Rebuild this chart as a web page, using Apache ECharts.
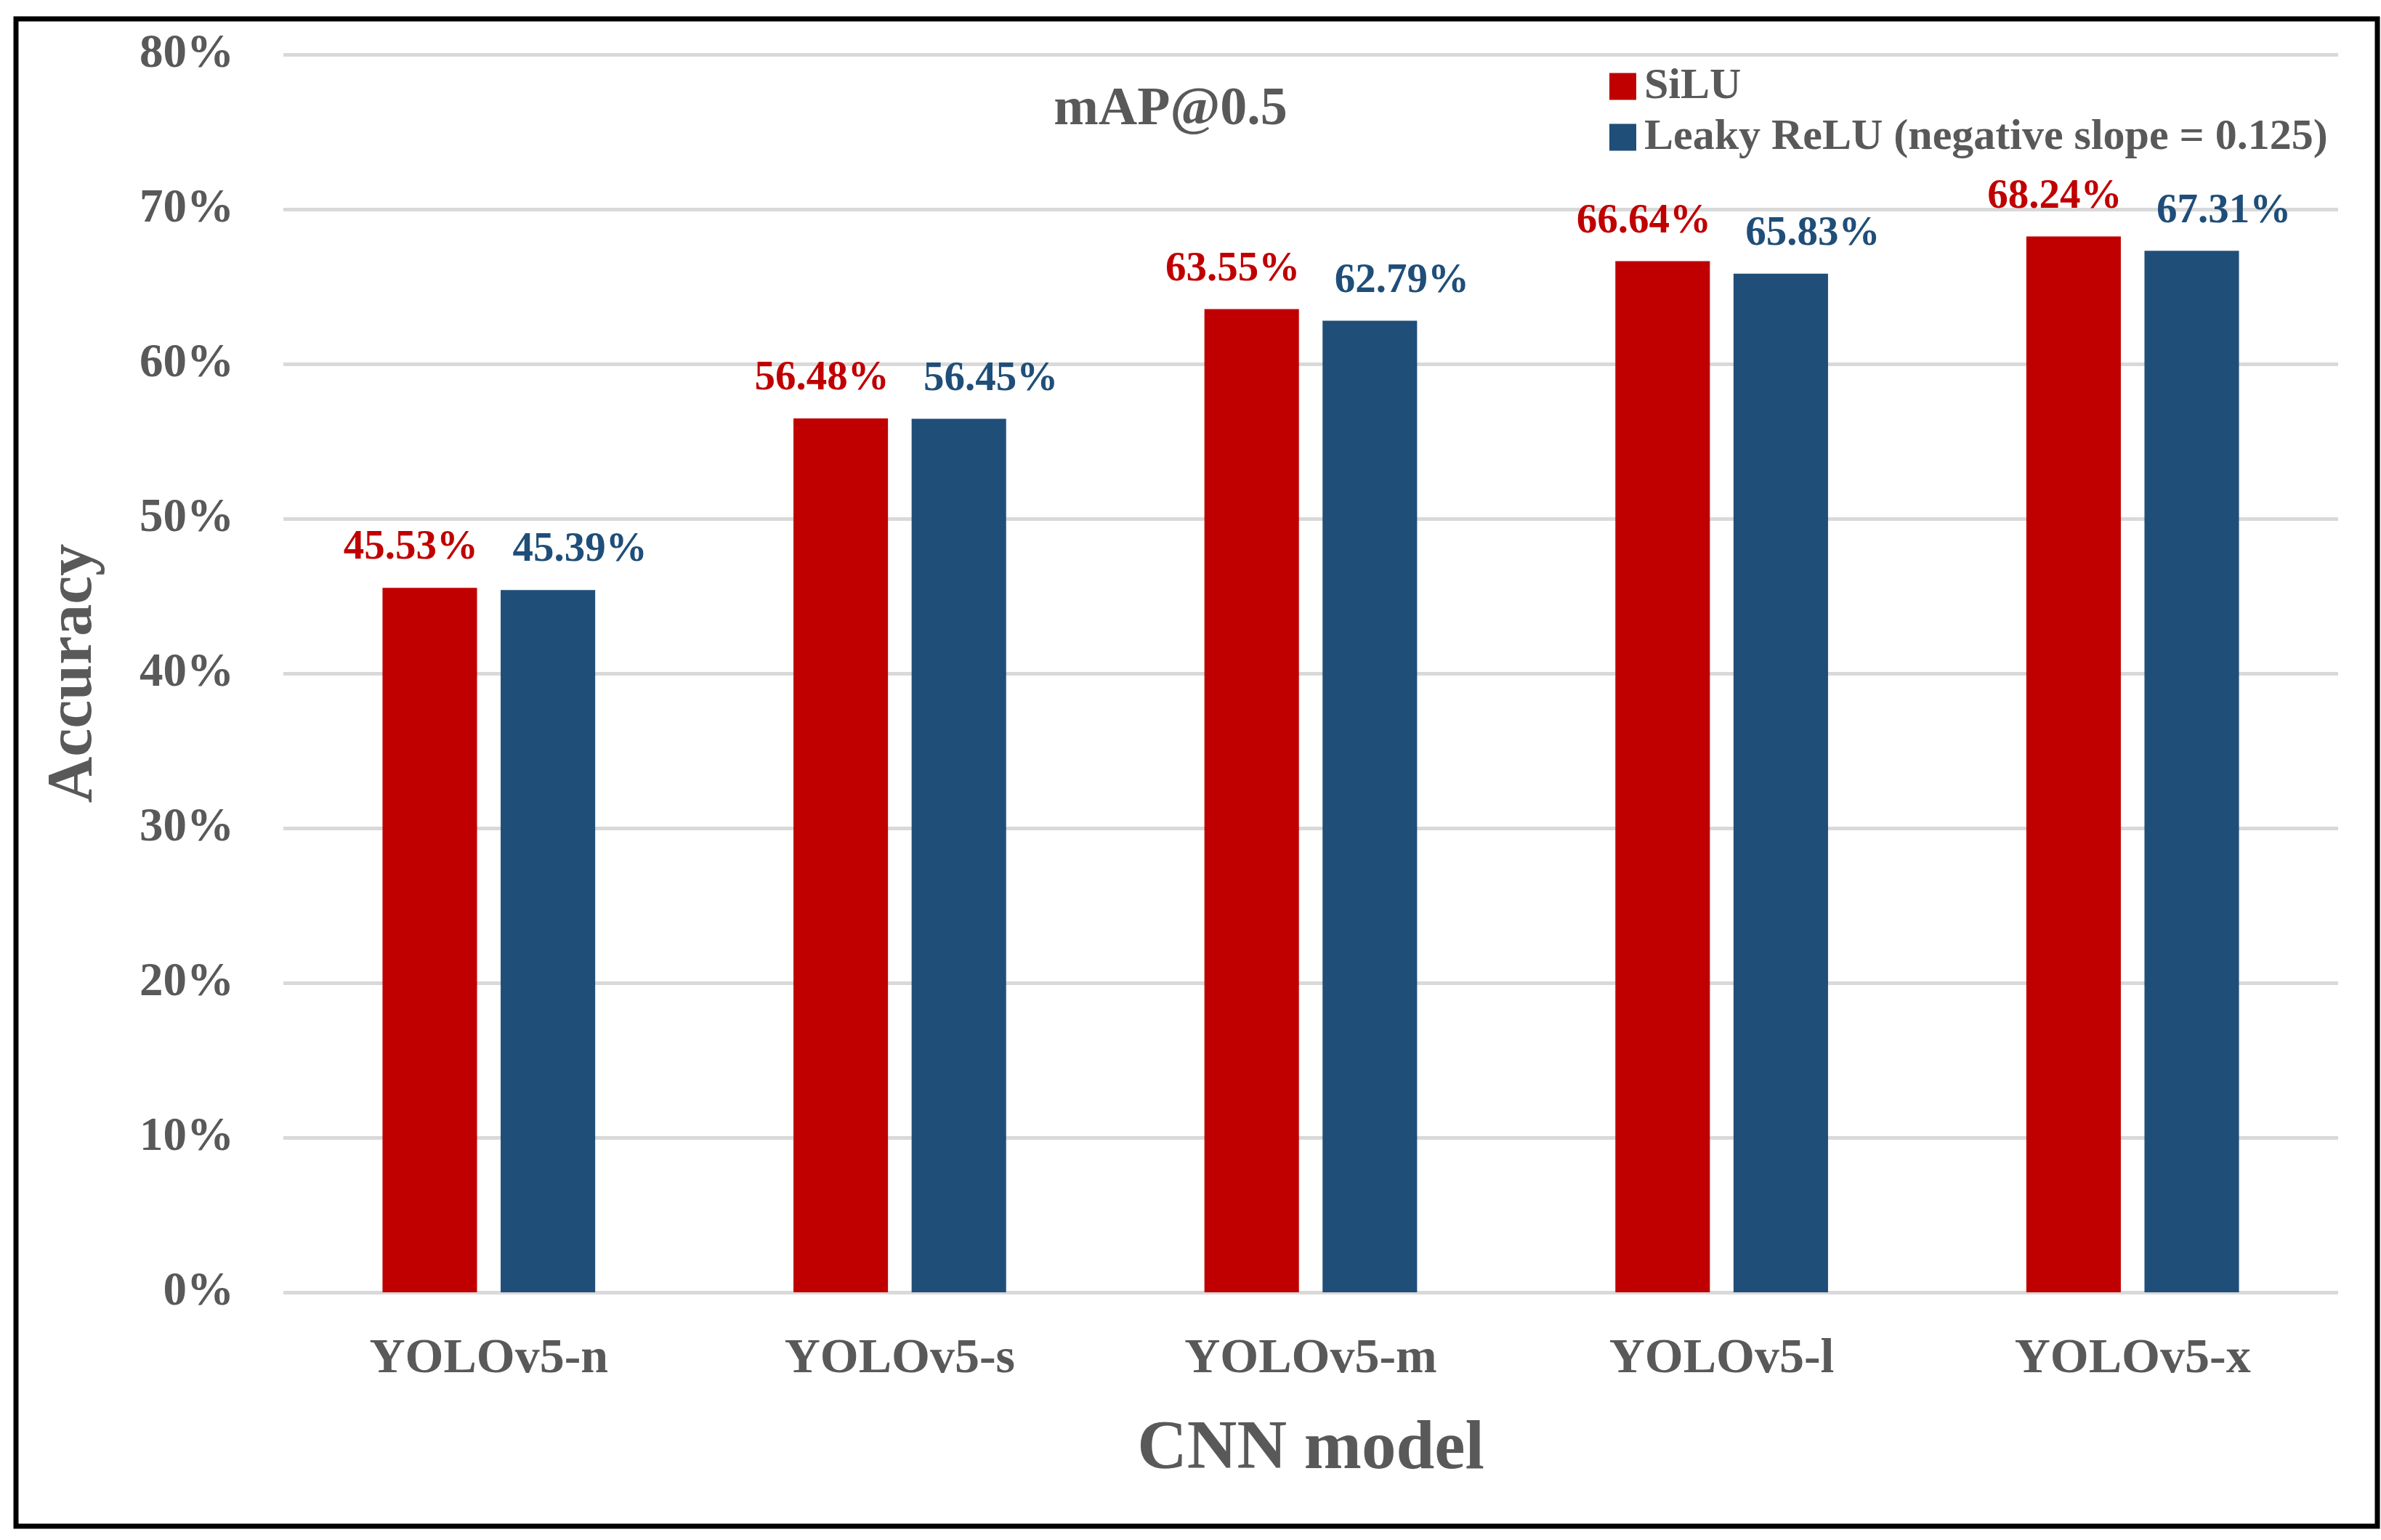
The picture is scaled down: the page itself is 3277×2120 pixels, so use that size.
<!DOCTYPE html>
<html>
<head>
<meta charset="utf-8">
<title>mAP@0.5</title>
<script src="https://cdn.jsdelivr.net/npm/echarts@6/dist/echarts.min.js"></script>
<style>
  html, body { margin: 0; padding: 0; background: #fff; }
  #main { width: 3277px; height: 2120px; }
</style>
</head>
<body>
<div id="main"></div>
<script>
// chart data
var models = ['YOLOv5-n', 'YOLOv5-s', 'YOLOv5-m', 'YOLOv5-l', 'YOLOv5-x'];
var silu = [45.53, 56.48, 63.55, 66.64, 68.24];
var leakyRelu = [45.39, 56.45, 62.79, 65.83, 67.31];
var seriesNames = ['SiLU', 'Leaky ReLU (negative slope = 0.125)'];
var yTicks = { min: 0, max: 80, step: 10 };

var font = 'Liberation Serif';
var grey = '#595959';

var myChart = echarts.init(document.getElementById('main'));

function pct(p) { return p.value.toFixed(2) + '%'; }

var option = {
    backgroundColor: '#fff',
    textStyle: { fontFamily: font, fontWeight: 'bold', color: grey },
    title: {
        text: 'mAP@0.5',
        left: 1606,
        top: 110,
        textAlign: 'center',
        textStyle: { fontFamily: font, fontWeight: 'bold', fontSize: 74, color: grey }
    },
    legend: {
        orient: 'vertical',
        left: 2210,
        top: 84,
        itemWidth: 37,
        itemHeight: 37,
        itemGap: 10,
        icon: 'rect',
        data: seriesNames,
        textStyle: {
            fontFamily: font, fontWeight: 'bold', fontSize: 60, color: grey,
            lineHeight: 60, padding: [0, 0, 0, 6]
        }
    },
    graphic: [{
        type: 'rect',
        shape: { x: 22, y: 26, width: 3250, height: 2075 },
        style: { fill: 'none', stroke: '#000', lineWidth: 7 },
        silent: true
    }],
    grid: { left: 390, right: 59, top: 75, bottom: 341 },
    xAxis: {
        type: 'category',
        data: models,
        name: 'CNN model',
        nameLocation: 'middle',
        nameGap: 170,
        nameTextStyle: { fontFamily: font, fontWeight: 'bold', fontSize: 95, color: grey },
        axisLine: { show: false },
        axisTick: { show: false },
        axisLabel: { margin: 58, fontFamily: font, fontWeight: 'bold', fontSize: 68, color: grey }
    },
    yAxis: {
        type: 'value',
        min: yTicks.min,
        max: yTicks.max,
        interval: yTicks.step,
        name: 'Accuracy',
        nameLocation: 'middle',
        nameGap: 244,
        nameTextStyle: { fontFamily: font, fontWeight: 'bold', fontSize: 88, color: grey },
        axisLine: { show: false },
        axisTick: { show: false },
        axisLabel: {
            margin: 68, fontFamily: font, fontWeight: 'bold', fontSize: 65, color: grey,
            formatter: '{value}%'
        },
        splitLine: { lineStyle: { color: '#D9D9D9', width: 5 } }
    },
    series: [{
        name: seriesNames[0],
        type: 'bar',
        data: silu,
        barWidth: '23%',
        barGap: '25%',
        itemStyle: { color: '#C00000' },
        label: {
            show: true, position: 'top', distance: 26, offset: [-26, 0],
            formatter: pct,
            fontFamily: font, fontWeight: 'bold', fontSize: 57, color: '#C00000'
        }
    }, {
        name: seriesNames[1],
        type: 'bar',
        data: leakyRelu,
        barWidth: '23%',
        barGap: '25%',
        itemStyle: { color: '#1F4E79' },
        label: {
            show: true, position: 'top', distance: 26, offset: [44, 0],
            formatter: pct,
            fontFamily: font, fontWeight: 'bold', fontSize: 57, color: '#1F4E79'
        }
    }]
};

myChart.setOption(option);
</script>
</body>
</html>
